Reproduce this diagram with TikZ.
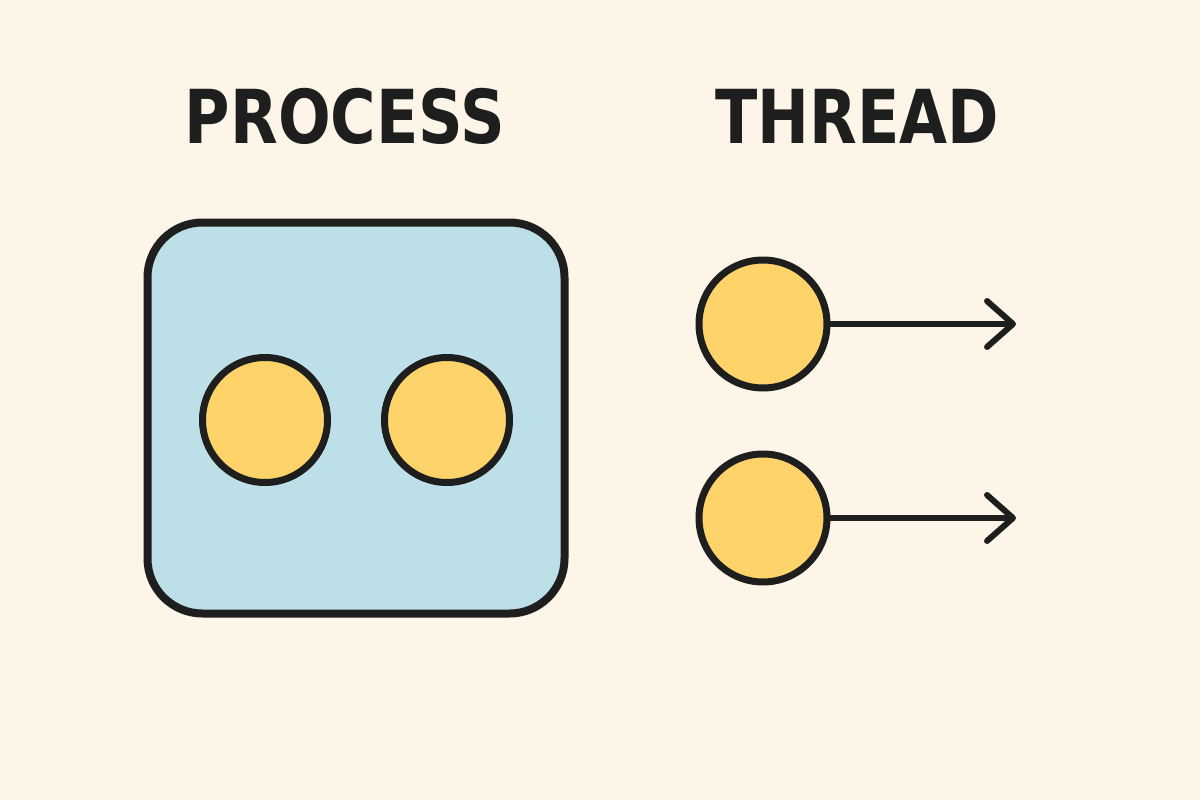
\documentclass[tikz,border=0pt]{standalone}
\usepackage{fontspec}
\setmainfont{DejaVu Sans}
\usetikzlibrary{arrows.meta}
\definecolor{bg}{HTML}{FDF6E8}
\definecolor{box}{HTML}{BDE0E8}
\definecolor{dot}{HTML}{FDD36A}
\definecolor{ink}{HTML}{1E1E1E}
\begin{document}
\begin{tikzpicture}[x=1pt,y=-1pt,
  title/.style={font=\fontsize{62}{66}\selectfont\bfseries, text=ink, inner sep=0, yscale=1.2},
  ball/.style={circle, draw=ink, line width=7pt, fill=dot, minimum size=#1, inner sep=0},
  arr/.style={draw=ink, line width=6pt, line cap=round, -{Straight Barb[length=26pt,width=46pt,line width=6pt,round]}}]
\fill[bg] (0,0) rectangle (1200,800);
\useasboundingbox (0,0) rectangle (1200,800);
\node[title] (tp) at (345,116) {PROCESS};
\node[title] (tt) at (857,116) {THREAD};
\node[draw=ink, line width=8pt, fill=box, rounded corners=55pt, minimum width=417pt, minimum height=391pt, inner sep=0] (proc) at (356,418) {};
\node[ball=125pt] (p1) at (265,420) {};
\node[ball=125pt] (p2) at (447,420) {};
\node[ball=128pt] (t1) at (763,324) {};
\node[ball=128pt] (t2) at (763,518) {};
\coordinate (e1) at (1016,324);
\coordinate (e2) at (1016,518);
\draw[arr] (t1.east) -- (e1);
\draw[arr] (t2.east) -- (e2);
\end{tikzpicture}
\end{document}
